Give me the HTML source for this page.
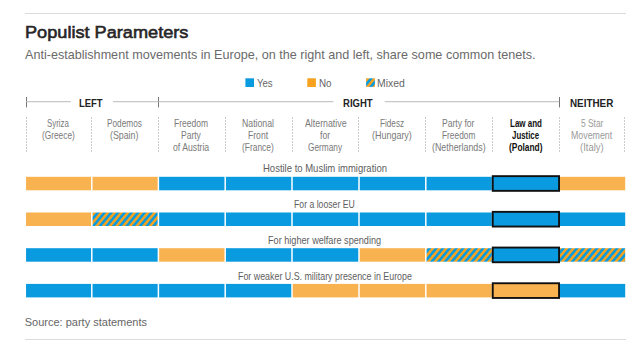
<!DOCTYPE html>
<html><head><meta charset="utf-8"><style>
html,body{margin:0;padding:0;background:#fff;width:640px;height:352px;overflow:hidden;}
body{position:relative;font-family:"Liberation Sans",sans-serif;}
.t{position:absolute;white-space:pre;line-height:20px;transform-origin:0 0;}
</style></head><body>

<svg style="position:absolute;left:0;top:0" width="640" height="352"><defs><pattern id="hatch" patternUnits="userSpaceOnUse" width="5.13" height="20" patternTransform="rotate(40)"><rect width="5.13" height="20" fill="#f6a21e"/><rect width="2.6" height="20" fill="#0a9ae0"/></pattern></defs><rect x="25" y="13" width="601" height="1" fill="#dcdcdc"/><rect x="25" y="339" width="601" height="1" fill="#dcdcdc"/><rect x="245.4" y="78.3" width="8.6" height="8.7" fill="#0a9ae0"/><rect x="307.3" y="78.3" width="8.6" height="8.7" fill="#f6a21e"/><rect x="366.1" y="78.3" width="8.8" height="8.6" fill="url(#hatch)"/><rect x="26" y="97" width="1" height="10.4" fill="#777"/><rect x="158" y="97" width="1" height="10.4" fill="#777"/><rect x="559" y="97" width="1" height="10.4" fill="#777"/><rect x="26" y="101.2" width="44.80" height="1" fill="#bbb"/><rect x="113" y="101.2" width="46.00" height="1" fill="#bbb"/><rect x="159" y="101.2" width="174.50" height="1" fill="#bbb"/><rect x="384.7" y="101.2" width="174.50" height="1" fill="#bbb"/><line x1="26.5" y1="117" x2="26.5" y2="153" stroke="#cccccc" stroke-width="1" stroke-dasharray="2 1"/><line x1="91.5" y1="117" x2="91.5" y2="153" stroke="#cccccc" stroke-width="1" stroke-dasharray="2 1"/><line x1="158.5" y1="117" x2="158.5" y2="153" stroke="#cccccc" stroke-width="1" stroke-dasharray="2 1"/><line x1="225.5" y1="117" x2="225.5" y2="153" stroke="#cccccc" stroke-width="1" stroke-dasharray="2 1"/><line x1="292.5" y1="117" x2="292.5" y2="153" stroke="#cccccc" stroke-width="1" stroke-dasharray="2 1"/><line x1="358.5" y1="117" x2="358.5" y2="153" stroke="#cccccc" stroke-width="1" stroke-dasharray="2 1"/><line x1="425.5" y1="117" x2="425.5" y2="153" stroke="#cccccc" stroke-width="1" stroke-dasharray="2 1"/><line x1="492.5" y1="117" x2="492.5" y2="153" stroke="#cccccc" stroke-width="1" stroke-dasharray="2 1"/><line x1="559.5" y1="117" x2="559.5" y2="153" stroke="#cccccc" stroke-width="1" stroke-dasharray="2 1"/><line x1="624.5" y1="117" x2="624.5" y2="153" stroke="#cccccc" stroke-width="1" stroke-dasharray="2 1"/><rect x="26.05" y="176.8" width="65.00" height="13.5" fill="#f8b24f"/><rect x="92.55" y="176.8" width="65.10" height="13.5" fill="#f8b24f"/><rect x="159.15" y="176.8" width="65.30" height="13.5" fill="#0a9ae0"/><rect x="225.95" y="176.8" width="65.30" height="13.5" fill="#0a9ae0"/><rect x="292.75" y="176.8" width="65.50" height="13.5" fill="#0a9ae0"/><rect x="359.75" y="176.8" width="65.30" height="13.5" fill="#0a9ae0"/><rect x="426.55" y="176.8" width="65.25" height="13.5" fill="#0a9ae0"/><rect x="559.85" y="176.8" width="65.35" height="13.5" fill="#f8b24f"/><rect x="492.75" y="176.15" width="66.30" height="14.70" fill="#0a9ae0" stroke="#111" stroke-width="1.9"/><rect x="26.05" y="212.5" width="65.00" height="13.5" fill="#f8b24f"/><rect x="92.55" y="212.5" width="65.10" height="13.5" fill="url(#hatch)"/><rect x="159.15" y="212.5" width="65.30" height="13.5" fill="#0a9ae0"/><rect x="225.95" y="212.5" width="65.30" height="13.5" fill="#0a9ae0"/><rect x="292.75" y="212.5" width="65.50" height="13.5" fill="#0a9ae0"/><rect x="359.75" y="212.5" width="65.30" height="13.5" fill="#0a9ae0"/><rect x="426.55" y="212.5" width="65.25" height="13.5" fill="#0a9ae0"/><rect x="559.85" y="212.5" width="65.35" height="13.5" fill="#0a9ae0"/><rect x="492.75" y="211.85" width="66.30" height="14.70" fill="#0a9ae0" stroke="#111" stroke-width="1.9"/><rect x="26.05" y="248.2" width="65.00" height="13.5" fill="#0a9ae0"/><rect x="92.55" y="248.2" width="65.10" height="13.5" fill="#0a9ae0"/><rect x="159.15" y="248.2" width="65.30" height="13.5" fill="#f8b24f"/><rect x="225.95" y="248.2" width="65.30" height="13.5" fill="#0a9ae0"/><rect x="292.75" y="248.2" width="65.50" height="13.5" fill="#0a9ae0"/><rect x="359.75" y="248.2" width="65.30" height="13.5" fill="#f8b24f"/><rect x="426.55" y="248.2" width="65.25" height="13.5" fill="url(#hatch)"/><rect x="559.85" y="248.2" width="65.35" height="13.5" fill="url(#hatch)"/><rect x="492.75" y="247.55" width="66.30" height="14.70" fill="#0a9ae0" stroke="#111" stroke-width="1.9"/><rect x="26.05" y="283.9" width="65.00" height="13.5" fill="#0a9ae0"/><rect x="92.55" y="283.9" width="65.10" height="13.5" fill="#0a9ae0"/><rect x="159.15" y="283.9" width="65.30" height="13.5" fill="#0a9ae0"/><rect x="225.95" y="283.9" width="65.30" height="13.5" fill="#0a9ae0"/><rect x="292.75" y="283.9" width="65.50" height="13.5" fill="#f8b24f"/><rect x="359.75" y="283.9" width="65.30" height="13.5" fill="#f8b24f"/><rect x="426.55" y="283.9" width="65.25" height="13.5" fill="#f8b24f"/><rect x="559.85" y="283.9" width="65.35" height="13.5" fill="#0a9ae0"/><rect x="492.75" y="283.25" width="66.30" height="14.70" fill="#f8b24f" stroke="#111" stroke-width="1.9"/></svg>
<div class="t" style="left:24.68px;top:22px;font-size:17.4px;font-weight:normal;color:#262626;transform:scaleX(1.0437);-webkit-text-stroke:0.6px #262626;">Populist Parameters</div>
<div class="t" style="left:25.35px;top:45px;font-size:13.3px;font-weight:normal;color:#6a6a6a;transform:scaleX(0.9475);">Anti-establishment movements in Europe, on the right and left, share some common tenets.</div>
<div class="t" style="left:257.03px;top:73px;font-size:10.9px;font-weight:normal;color:#666;transform:scaleX(0.8818);">Yes</div>
<div class="t" style="left:318.76px;top:73px;font-size:10.9px;font-weight:normal;color:#666;transform:scaleX(0.9030);">No</div>
<div class="t" style="left:377.16px;top:73px;font-size:10.9px;font-weight:normal;color:#666;transform:scaleX(0.9582);">Mixed</div>
<div class="t" style="left:79.37px;top:94px;font-size:10.2px;font-weight:bold;color:#222;transform:scaleX(0.9253);">LEFT</div>
<div class="t" style="left:343.17px;top:94px;font-size:10.2px;font-weight:bold;color:#222;transform:scaleX(0.9355);">RIGHT</div>
<div class="t" style="left:570.45px;top:94px;font-size:10.2px;font-weight:bold;color:#222;transform:scaleX(0.9675);">NEITHER</div>
<div class="t" style="left:46.86px;top:114px;font-size:10.2px;font-weight:normal;color:#7a7a7a;transform:scaleX(0.7748);">Syriza</div>
<div class="t" style="left:41.74px;top:126px;font-size:10.2px;font-weight:normal;color:#7a7a7a;transform:scaleX(0.8154);">(Greece)</div>
<div class="t" style="left:107.24px;top:114px;font-size:10.2px;font-weight:normal;color:#7a7a7a;transform:scaleX(0.8096);">Podemos</div>
<div class="t" style="left:110.46px;top:126px;font-size:10.2px;font-weight:normal;color:#7a7a7a;transform:scaleX(0.8648);">(Spain)</div>
<div class="t" style="left:174.42px;top:114px;font-size:10.2px;font-weight:normal;color:#7a7a7a;transform:scaleX(0.8331);">Freedom</div>
<div class="t" style="left:181.22px;top:126px;font-size:10.2px;font-weight:normal;color:#7a7a7a;transform:scaleX(0.8350);">Party</div>
<div class="t" style="left:173.13px;top:138px;font-size:10.2px;font-weight:normal;color:#7a7a7a;transform:scaleX(0.8522);">of Austria</div>
<div class="t" style="left:242.30px;top:114px;font-size:10.2px;font-weight:normal;color:#7a7a7a;transform:scaleX(0.8557);">National</div>
<div class="t" style="left:248.01px;top:126px;font-size:10.2px;font-weight:normal;color:#7a7a7a;transform:scaleX(0.8437);">Front</div>
<div class="t" style="left:242.33px;top:138px;font-size:10.2px;font-weight:normal;color:#7a7a7a;transform:scaleX(0.8242);">(France)</div>
<div class="t" style="left:304.55px;top:114px;font-size:10.2px;font-weight:normal;color:#7a7a7a;transform:scaleX(0.8628);">Alternative</div>
<div class="t" style="left:319.74px;top:126px;font-size:10.2px;font-weight:normal;color:#7a7a7a;transform:scaleX(0.8602);">for</div>
<div class="t" style="left:307.74px;top:138px;font-size:10.2px;font-weight:normal;color:#7a7a7a;transform:scaleX(0.8121);">Germany</div>
<div class="t" style="left:379.95px;top:114px;font-size:10.2px;font-weight:normal;color:#7a7a7a;transform:scaleX(0.8035);">Fidesz</div>
<div class="t" style="left:372.30px;top:126px;font-size:10.2px;font-weight:normal;color:#7a7a7a;transform:scaleX(0.8795);">(Hungary)</div>
<div class="t" style="left:442.31px;top:114px;font-size:10.2px;font-weight:normal;color:#7a7a7a;transform:scaleX(0.8427);">Party for</div>
<div class="t" style="left:442.03px;top:126px;font-size:10.2px;font-weight:normal;color:#7a7a7a;transform:scaleX(0.8178);">Freedom</div>
<div class="t" style="left:431.96px;top:138px;font-size:10.2px;font-weight:normal;color:#7a7a7a;transform:scaleX(0.8686);">(Netherlands)</div>
<div class="t" style="left:509.56px;top:114px;font-size:10.2px;font-weight:bold;color:#111;transform:scaleX(0.7848);">Law and</div>
<div class="t" style="left:511.90px;top:126px;font-size:10.2px;font-weight:bold;color:#111;transform:scaleX(0.7726);">Justice</div>
<div class="t" style="left:508.74px;top:138px;font-size:10.2px;font-weight:bold;color:#111;transform:scaleX(0.8226);">(Poland)</div>
<div class="t" style="left:580.94px;top:114px;font-size:10.2px;font-weight:normal;color:#9a9a9a;transform:scaleX(0.8225);">5 Star</div>
<div class="t" style="left:571.39px;top:126px;font-size:10.2px;font-weight:normal;color:#9a9a9a;transform:scaleX(0.8665);">Movement</div>
<div class="t" style="left:580.37px;top:138px;font-size:10.2px;font-weight:normal;color:#9a9a9a;transform:scaleX(0.9299);">(Italy)</div>
<div class="t" style="left:262.93px;top:159px;font-size:10.2px;font-weight:normal;color:#5e5e5e;transform:scaleX(0.9316);">Hostile to Muslim immigration</div>
<div class="t" style="left:293.50px;top:195px;font-size:10.2px;font-weight:normal;color:#5e5e5e;transform:scaleX(0.8517);">For a looser EU</div>
<div class="t" style="left:268.22px;top:231px;font-size:10.2px;font-weight:normal;color:#5e5e5e;transform:scaleX(0.8958);">For higher welfare spending</div>
<div class="t" style="left:237.99px;top:267px;font-size:10.2px;font-weight:normal;color:#5e5e5e;transform:scaleX(0.8700);">For weaker U.S. military presence in Europe</div>
<div class="t" style="left:24.75px;top:312px;font-size:11px;font-weight:normal;color:#666;">Source: party statements</div>
</body></html>
